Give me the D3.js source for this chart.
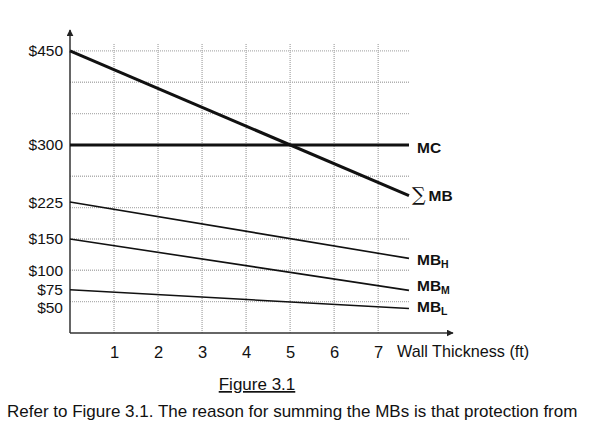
<!DOCTYPE html>
<html>
<head>
<meta charset="utf-8">
<script src="https://cdn.jsdelivr.net/npm/d3@7"></script>
<style>
  body { margin: 0; background: #fff; }
  svg { display: block; font-family: "Liberation Sans", Arial, sans-serif; }
</style>
</head>
<body>
<svg id="chart" width="595" height="434"></svg>
<script>
// values (x in ft of wall thickness, y in $)
const thickness = [0, 7.7]
const mc = [300, 300]
const sumMB = [450, 219]
const mbH = [209, 119]
const mbM = [150, 68]
const mbL = [69, 39]

const xTicks = [1, 2, 3, 4, 5, 6, 7]
const yTickAt = [450, 300, 208, 150, 100, 70, 40]
const yTickText = ['$450', '$300', '$225', '$150', '$100', '$75', '$50']
const gridY = [50, 100, 150, 200, 250, 300, 350, 400, 450]

const series = [
  {key: 'MC', values: mc, sub: null},
  {key: 'sum', values: sumMB, sub: null},
  {key: 'MBH', values: mbH, sub: 'H'},
  {key: 'MBM', values: mbM, sub: 'M'},
  {key: 'MBL', values: mbL, sub: 'L'},
]
// stroke + label nudges per series
const look = {
  MC: {w: 3, dy: 3},
  sum: {w: 3, dy: 0},
  MBH: {w: 1.6, dy: 1},
  MBM: {w: 1.6, dy: -5},
  MBL: {w: 1.6, dy: -2},
}

const svg = d3.select('#chart')
const x = d3.scaleLinear().domain([0, 7.7]).range([70, 409])
const y = d3.scaleLinear().domain([0, 461]).range([333, 44])

// arrow heads
svg.append('defs').append('marker')
  .attr('id', 'arrow')
  .attr('viewBox', '0 0 10 10')
  .attr('refX', 9).attr('refY', 5)
  .attr('markerWidth', 7).attr('markerHeight', 7)
  .attr('markerUnits', 'userSpaceOnUse')
  .attr('orient', 'auto')
  .append('path')
  .attr('d', 'M0,0 L10,5 L0,10 z')
  .attr('fill', '#222')

// dotted grid
const grid = svg.append('g')
  .attr('stroke', '#b0b0b0')
  .attr('stroke-width', 1.4)
  .attr('stroke-dasharray', '1 1')
grid.selectAll('line.h').data(gridY).join('line')
  .attr('class', 'h')
  .attr('x1', x(0)).attr('x2', x(7.7))
  .attr('y1', (d) => y(d)).attr('y2', (d) => y(d))
grid.selectAll('line.v').data(xTicks).join('line')
  .attr('class', 'v')
  .attr('x1', (d) => x(d)).attr('x2', (d) => x(d))
  .attr('y1', y(461)).attr('y2', y(0))

// axes
const yAxis = svg.append('g')
  .attr('transform', `translate(${x(0)},0)`)
  .call(d3.axisLeft(y).tickValues(yTickAt)
    .tickFormat((d, i) => yTickText[i]).tickSize(0).tickPadding(7))
yAxis.select('.domain').remove()
yAxis.selectAll('text').attr('font-size', 15.5).attr('fill', '#111')
  .attr('font-family', '"Liberation Sans", Arial, sans-serif')

const xAxis = svg.append('g')
  .attr('transform', `translate(0,${y(0)})`)
  .call(d3.axisBottom(x).tickValues(xTicks).tickSize(0).tickPadding(13))
xAxis.select('.domain').remove()
xAxis.selectAll('text').attr('font-size', 16.5).attr('fill', '#111')
  .attr('font-family', '"Liberation Sans", Arial, sans-serif')

svg.append('line')
  .attr('x1', x(0)).attr('y1', y(0))
  .attr('x2', x(0)).attr('y2', 30)
  .attr('stroke', '#333').attr('stroke-width', 1.5)
  .attr('marker-end', 'url(#arrow)')
svg.append('line')
  .attr('x1', x(0)).attr('y1', y(0))
  .attr('x2', 453).attr('y2', y(0))
  .attr('stroke', '#333').attr('stroke-width', 1.5)
  .attr('marker-end', 'url(#arrow)')

svg.append('text')
  .attr('x', 397).attr('y', y(0) + 24)
  .attr('font-size', 16.2).attr('fill', '#111')
  .text('Wall Thickness (ft)')

// curves
const line = d3.line()
  .x((d, i) => x(thickness[i]))
  .y((d) => y(d))

svg.append('g').selectAll('path').data(series).join('path')
  .attr('d', (d) => line(d.values))
  .attr('fill', 'none')
  .attr('stroke', '#111')
  .attr('stroke-width', (d) => look[d.key].w)

// end labels
const labels = svg.append('g')
  .attr('font-weight', 'bold')
  .attr('font-size', 15.5)
  .attr('fill', '#111')
series.forEach((s) => {
  const t = labels.append('text')
    .attr('x', x(thickness[1]) + 8)
    .attr('y', y(s.values[1]) + look[s.key].dy)
    .attr('dy', '0.35em')
  if (s.key === 'MC') {
    t.text('MC')
  } else if (s.key === 'sum') {
    t.attr('x', x(thickness[1]) + 3)
    t.append('tspan')
      .attr('font-family', '"DejaVu Serif", serif')
      .attr('font-weight', 'normal')
      .attr('font-size', 19)
      .text('\u2211')
    t.append('tspan').attr('dx', 3).text('MB')
  } else {
    t.append('tspan').text('MB')
    t.append('tspan')
      .attr('font-size', 10.5)
      .attr('dy', 3)
      .text(s.sub)
  }
})

// caption
svg.append('text')
  .attr('x', 257).attr('y', 390)
  .attr('text-anchor', 'middle')
  .attr('font-size', 17).attr('fill', '#111')
  .attr('text-decoration', 'underline')
  .text('Figure 3.1')
svg.append('text')
  .attr('x', 7).attr('y', 417)
  .attr('font-size', 17).attr('fill', '#111')
  .text('Refer to Figure 3.1. The reason for summing the MBs is that protection from')
</script>
</body>
</html>
